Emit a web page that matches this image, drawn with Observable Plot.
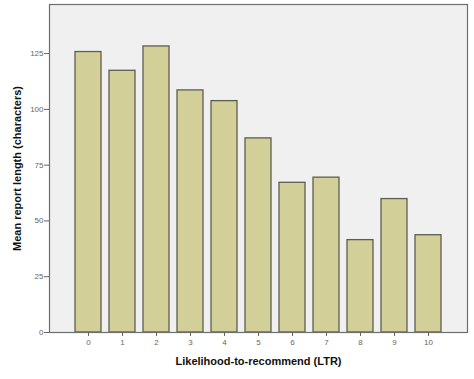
<!DOCTYPE html>
<html>
<head>
<meta charset="utf-8">
<script src="https://cdn.jsdelivr.net/npm/d3@7"></script>
<script src="https://cdn.jsdelivr.net/npm/@observablehq/plot@0.6"></script>
<style>
  html, body { margin: 0; padding: 0; background: #fff; }
  svg { display: block; }
</style>
</head>
<body>
<div id="chart"></div>
<script>
const categories = ["0","1","2","3","4","5","6","7","8","9","10"];
const meanLength = [125.7, 117.3, 128.2, 108.5, 103.7, 87.0, 67.1, 69.4, 41.4, 59.8, 43.6];
const yTicks = [0, 25, 50, 75, 100, 125];

const data = categories.map((c, i) => ({ltr: c, value: meanLength[i]}));

const chart = Plot.plot({
  width: 474,
  height: 379,
  marginLeft: 49,
  marginTop: 4,
  marginRight: 7,
  marginBottom: 47,
  style: { fontFamily: "'Liberation Sans', Arial, sans-serif", background: "#fff" },
  x: { type: "band", domain: categories, paddingInner: 0.24, paddingOuter: 0.73 },
  y: { domain: [0, 147] },
  marks: [
    Plot.frame({ fill: "#f0f0f0", stroke: "none" }),
    Plot.barY(data, { x: "ltr", y: "value", fill: "#d3cf99", stroke: "#5e5e50", strokeWidth: 1.3 }),
    Plot.frame({ stroke: "#6e6e6e", strokeWidth: 1.2 }),
    Plot.axisY({
      ticks: yTicks, tickSize: 5, tickPadding: 1, fontSize: 8, color: "#666",
      label: "Mean report length (characters)", labelAnchor: "center", labelArrow: "none",
      labelOffset: 36
    }),
    Plot.axisX({
      tickSize: 4, tickPadding: 3, fontSize: 8, color: "#666",
      label: "Likelihood-to-recommend (LTR)", labelAnchor: "center", labelArrow: "none",
      labelOffset: 32
    })
  ]
});

// Bold, dark axis titles
chart.querySelectorAll("g[aria-label='y-axis label'] text, g[aria-label='x-axis label'] text").forEach(t => {
  t.setAttribute("font-weight", "bold");
  t.setAttribute("font-size", "11");
  t.setAttribute("fill", "#111");
});
chart.querySelectorAll("g[aria-label='y-axis label'], g[aria-label='x-axis label']").forEach(g => {
  g.setAttribute("font-weight", "bold");
  g.setAttribute("font-size", "11");
  g.setAttribute("fill", "#111");
});
document.getElementById("chart").appendChild(chart);
</script>
</body>
</html>
